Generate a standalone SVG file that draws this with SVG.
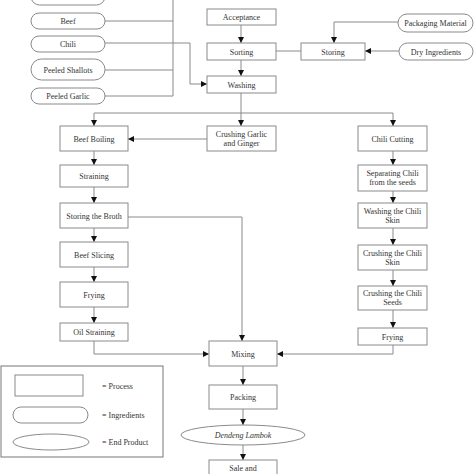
<svg xmlns="http://www.w3.org/2000/svg" width="474" height="474" viewBox="0 0 474 474">
<defs>
<style>
.p{fill:#fff;stroke:#8a8a8a;stroke-width:1}
.i{fill:#fff;stroke:#8a8a8a;stroke-width:1}
.t{font-family:"Liberation Serif","Times New Roman",serif;font-size:8px;fill:#333;text-anchor:middle}
.c{fill:none;stroke:#8a8a8a;stroke-width:1}
</style>
<marker id="a" viewBox="0 0 10 10" refX="10" refY="5" markerWidth="6" markerHeight="6" orient="auto" markerUnits="userSpaceOnUse"><path d="M0,0 L10,5 L0,10 z" fill="#111"/></marker>
</defs>
<rect width="474" height="474" fill="#fff"/>
<g id="connectors">
<path class="c" d="M173,0 V96"/>
<path class="c" d="M105,21 H173"/>
<path class="c" d="M105,70 H173"/>
<path class="c" d="M105,96 H173"/>
<path class="c" d="M105,43 H190 V84 H207" marker-end="url(#a)"/>
<path class="c" d="M241,25 V43" marker-end="url(#a)"/>
<path class="c" d="M241,60 V76" marker-end="url(#a)"/>
<path class="c" d="M276,51 H301"/>
<path class="c" d="M398,22 H334 V43" marker-end="url(#a)"/>
<path class="c" d="M399,51 H365" marker-end="url(#a)"/>
<path class="c" d="M241,93 V113"/>
<path class="c" d="M94,113 H393"/>
<path class="c" d="M94,113 V126" marker-end="url(#a)"/>
<path class="c" d="M241,113 V126" marker-end="url(#a)"/>
<path class="c" d="M393,113 V126" marker-end="url(#a)"/>
<path class="c" d="M207,139 H128" marker-end="url(#a)"/>
<path class="c" d="M94,151 V165" marker-end="url(#a)"/>
<path class="c" d="M94,187 V203" marker-end="url(#a)"/>
<path class="c" d="M94,228 V242" marker-end="url(#a)"/>
<path class="c" d="M94,267 V282" marker-end="url(#a)"/>
<path class="c" d="M94,307 V323" marker-end="url(#a)"/>
<path class="c" d="M128,217 H242 V341" marker-end="url(#a)"/>
<path class="c" d="M94,341 V354 H209" marker-end="url(#a)"/>
<path class="c" d="M393,151 V165" marker-end="url(#a)"/>
<path class="c" d="M393,191 V203" marker-end="url(#a)"/>
<path class="c" d="M393,228 V245" marker-end="url(#a)"/>
<path class="c" d="M393,270 V286" marker-end="url(#a)"/>
<path class="c" d="M393,310 V328" marker-end="url(#a)"/>
<path class="c" d="M393,345 V354 H277" marker-end="url(#a)"/>
<path class="c" d="M243,366 V385" marker-end="url(#a)"/>
<path class="c" d="M243,409 V425" marker-end="url(#a)"/>
<path class="c" d="M243,445 V460" marker-end="url(#a)"/>
</g>
<g id="ing-top"><rect class="i" x="31" y="-12" width="74" height="17" rx="8.5"/></g>
<g id="ing-beef"><rect class="i" x="31" y="13" width="74" height="16" rx="8"/><text class="t" x="68" y="24">Beef</text></g>
<g id="ing-chili"><rect class="i" x="31" y="36" width="74" height="16" rx="8"/><text class="t" x="68" y="47">Chili</text></g>
<g id="ing-shallots"><rect class="i" x="31" y="59" width="74" height="21" rx="10.5"/><text class="t" x="68" y="72.5">Peeled Shallots</text></g>
<g id="ing-garlic"><rect class="i" x="31" y="88" width="74" height="16" rx="8"/><text class="t" x="68" y="99">Peeled Garlic</text></g>
<g id="acceptance"><rect class="p" x="207" y="9" width="69" height="16"/><text class="t" x="241.5" y="20">Acceptance</text></g>
<g id="sorting"><rect class="p" x="207" y="43" width="69" height="17"/><text class="t" x="241.5" y="54.5">Sorting</text></g>
<g id="washing"><rect class="p" x="207" y="76" width="69" height="17"/><text class="t" x="241.5" y="87.5">Washing</text></g>
<g id="storing"><rect class="p" x="301" y="43" width="64" height="17"/><text class="t" x="333" y="54.5">Storing</text></g>
<g id="ing-packaging"><rect class="i" x="398" y="14" width="75" height="18" rx="9"/><text class="t" x="435.5" y="25.5">Packaging Material</text></g>
<g id="ing-dry"><rect class="i" x="399" y="43" width="74" height="17" rx="8.5"/><text class="t" x="436" y="54.5">Dry Ingredients</text></g>
<g id="beef-boiling"><rect class="p" x="60" y="126" width="68" height="25"/><text class="t" x="94" y="141.5">Beef Boiling</text></g>
<g id="crushing-garlic"><rect class="p" x="207" y="126" width="69" height="25"/><text class="t" x="241.5" y="136.5">Crushing Garlic</text><text class="t" x="241.5" y="145.5">and Ginger</text></g>
<g id="chili-cutting"><rect class="p" x="358" y="126" width="69" height="25"/><text class="t" x="392.5" y="141.5">Chili Cutting</text></g>
<g id="straining"><rect class="p" x="60" y="165" width="68" height="22"/><text class="t" x="94" y="179">Straining</text></g>
<g id="separating"><rect class="p" x="358" y="165" width="69" height="26"/><text class="t" x="392.5" y="176">Separating Chili</text><text class="t" x="392.5" y="185">from the seeds</text></g>
<g id="storing-broth"><rect class="p" x="60" y="203" width="68" height="25"/><text class="t" x="94" y="218.5">Storing the Broth</text></g>
<g id="washing-chili"><rect class="p" x="358" y="203" width="69" height="25"/><text class="t" x="392.5" y="213.5">Washing the Chili</text><text class="t" x="392.5" y="222.5">Skin</text></g>
<g id="beef-slicing"><rect class="p" x="60" y="242" width="68" height="25"/><text class="t" x="94" y="257.5">Beef Slicing</text></g>
<g id="crushing-skin"><rect class="p" x="358" y="245" width="69" height="25"/><text class="t" x="392.5" y="255.5">Crushing the Chili</text><text class="t" x="392.5" y="264.5">Skin</text></g>
<g id="frying-beef"><rect class="p" x="60" y="282" width="68" height="25"/><text class="t" x="94" y="297.5">Frying</text></g>
<g id="crushing-seeds"><rect class="p" x="358" y="286" width="69" height="24"/><text class="t" x="392.5" y="296">Crushing the Chili</text><text class="t" x="392.5" y="305">Seeds</text></g>
<g id="oil-straining"><rect class="p" x="60" y="323" width="68" height="18"/><text class="t" x="94" y="335">Oil Straining</text></g>
<g id="frying-chili"><rect class="p" x="358" y="328" width="69" height="17"/><text class="t" x="392.5" y="339.5">Frying</text></g>
<g id="mixing"><rect class="p" x="209" y="341" width="68" height="25"/><text class="t" x="243" y="356.5">Mixing</text></g>
<g id="packing"><rect class="p" x="209" y="385" width="68" height="24"/><text class="t" x="243" y="400">Packing</text></g>
<g id="dendeng"><ellipse class="i" cx="243" cy="435" rx="62" ry="10"/><text class="t" x="243" y="438" font-style="italic">Dendeng Lambok</text></g>
<g id="sale"><rect class="p" x="209" y="460" width="68" height="25"/><text class="t" x="243" y="471">Sale and</text></g>
<g id="legend">
<rect x="1" y="366" width="162" height="91" fill="#fff" stroke="#777" stroke-width="1"/>
<rect class="p" x="15" y="375" width="68" height="21"/>
<text class="t" x="102" y="388.5" style="text-anchor:start">= Process</text>
<rect class="i" x="13" y="407" width="75" height="16" rx="8"/>
<text class="t" x="102" y="418" style="text-anchor:start">= Ingredients</text>
<ellipse class="i" cx="51" cy="442" rx="38" ry="8"/>
<text class="t" x="102" y="445" style="text-anchor:start">= End Product</text>
</g>
</svg>
